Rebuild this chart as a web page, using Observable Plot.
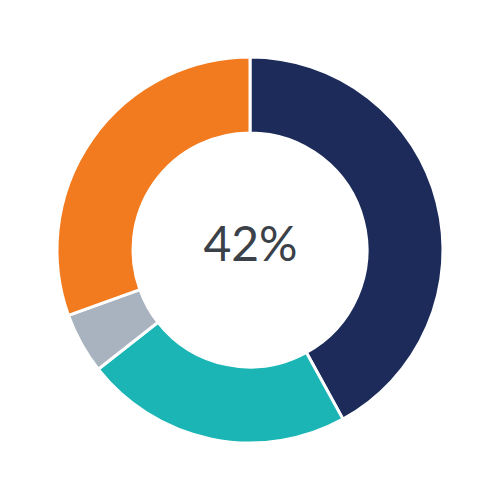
<!DOCTYPE html>
<html>
<head>
<meta charset="utf-8">
<script src="https://cdn.jsdelivr.net/npm/d3@7"></script>
<script src="https://cdn.jsdelivr.net/npm/@observablehq/plot@0.6"></script>
<style>
  html, body { margin: 0; padding: 0; background: #fff; }
</style>
</head>
<body>
<div id="chart"></div>
<script>
const categories = ["A", "B", "C", "D"];
const values = [42, 22.4, 5.1, 30.5];
const colors = ["#1c2b59", "#1bb5b5", "#a9b3c0", "#f27b20"];
const centerLabel = "42%";

const data = categories.map((c, i) => ({category: c, value: values[i]}));
const color = Plot.scale({color: {type: "ordinal", domain: categories, range: colors}});

const pie = d3.pie().sort(null).value(d => d.value);
const arcs = pie(data);

const chart = Plot.plot({
  width: 500,
  height: 500,
  margin: 0,
  x: {domain: [-250, 250], axis: null},
  y: {domain: [-250, 250], axis: null},
  marks: [
    (index, scales, values, dimensions) => {
      const cx = scales.x(0), cy = scales.y(0);
      const outer = scales.x(193) - scales.x(0);
      const inner = scales.x(117) - scales.x(0);
      const arc = d3.arc().innerRadius(inner).outerRadius(outer);
      const g = d3.create("svg:g").attr("transform", `translate(${cx},${cy})`);
      g.selectAll("path")
        .data(arcs)
        .join("path")
        .attr("d", arc)
        .attr("fill", d => color.apply(d.data.category))
        .attr("stroke", "#fff")
        .attr("stroke-width", 3)
        .attr("stroke-linejoin", "miter");
      return g.node();
    },
    Plot.text([centerLabel], {
      x: () => 0, y: () => 0,
      text: d => d,
      fontSize: 48,
      fontWeight: 400,
      fill: "#3b4148",
      dy: -5,
      textAnchor: "middle"
    })
  ],
  style: {fontFamily: "Lato, sans-serif", background: "#fff"}
});
document.getElementById("chart").appendChild(chart);
</script>
</body>
</html>
